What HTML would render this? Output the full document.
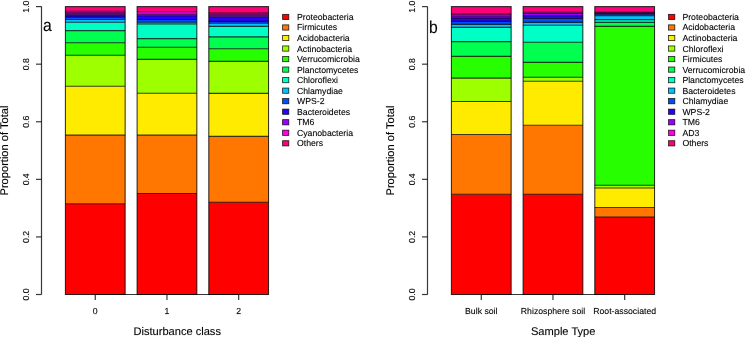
<!DOCTYPE html>
<html><head><meta charset="utf-8"><style>
html,body{margin:0;padding:0;background:#fff;}
svg{display:block;}
text{font-family:"Liberation Sans",Arial,sans-serif;fill:#000;stroke:#000;stroke-width:0.3px;stroke-opacity:0.35;text-rendering:geometricPrecision;}
</style></head><body>
<svg width="746" height="337" viewBox="0 0 746 337">
<rect width="746" height="337" fill="#fff"/>
<rect x="65.40" y="203.70" width="59.74" height="90.80" fill="#FF0000"/>
<rect x="65.40" y="135.10" width="59.74" height="68.60" fill="#FF7600"/>
<rect x="65.40" y="86.30" width="59.74" height="48.80" fill="#FFEB00"/>
<rect x="65.40" y="55.30" width="59.74" height="31.00" fill="#9DFF00"/>
<rect x="65.40" y="42.80" width="59.74" height="12.50" fill="#27FF00"/>
<rect x="65.40" y="30.60" width="59.74" height="12.20" fill="#00FF4E"/>
<rect x="65.40" y="22.30" width="59.74" height="8.30" fill="#00FFC4"/>
<rect x="65.40" y="19.50" width="59.74" height="2.80" fill="#00C4FF"/>
<rect x="65.40" y="17.10" width="59.74" height="2.40" fill="#004EFF"/>
<rect x="65.40" y="14.80" width="59.74" height="2.30" fill="#2700FF"/>
<rect x="65.40" y="12.90" width="59.74" height="1.90" fill="#9D00FF"/>
<rect x="65.40" y="11.30" width="59.74" height="1.60" fill="#FF00EB"/>
<rect x="65.40" y="6.60" width="59.74" height="4.70" fill="#FF0076"/>
<path d="M65.40 203.70H125.14M65.40 135.10H125.14M65.40 86.30H125.14M65.40 55.30H125.14M65.40 42.80H125.14M65.40 30.60H125.14M65.40 22.30H125.14M65.40 19.50H125.14M65.40 17.10H125.14M65.40 14.80H125.14M65.40 12.90H125.14M65.40 11.30H125.14" stroke="#000" stroke-opacity="0.75" stroke-width="1.1" fill="none"/>
<rect x="65.40" y="6.60" width="59.74" height="287.90" fill="none" stroke="#000" stroke-opacity="0.8" stroke-width="1.05"/>
<rect x="137.10" y="193.50" width="59.74" height="101.00" fill="#FF0000"/>
<rect x="137.10" y="135.10" width="59.74" height="58.40" fill="#FF7600"/>
<rect x="137.10" y="93.30" width="59.74" height="41.80" fill="#FFEB00"/>
<rect x="137.10" y="59.40" width="59.74" height="33.90" fill="#9DFF00"/>
<rect x="137.10" y="47.20" width="59.74" height="12.20" fill="#27FF00"/>
<rect x="137.10" y="38.60" width="59.74" height="8.60" fill="#00FF4E"/>
<rect x="137.10" y="24.00" width="59.74" height="14.60" fill="#00FFC4"/>
<rect x="137.10" y="22.30" width="59.74" height="1.70" fill="#00C4FF"/>
<rect x="137.10" y="19.50" width="59.74" height="2.80" fill="#004EFF"/>
<rect x="137.10" y="15.70" width="59.74" height="3.80" fill="#2700FF"/>
<rect x="137.10" y="14.30" width="59.74" height="1.40" fill="#9D00FF"/>
<rect x="137.10" y="11.70" width="59.74" height="2.60" fill="#FF00EB"/>
<rect x="137.10" y="6.60" width="59.74" height="5.10" fill="#FF0076"/>
<path d="M137.10 193.50H196.84M137.10 135.10H196.84M137.10 93.30H196.84M137.10 59.40H196.84M137.10 47.20H196.84M137.10 38.60H196.84M137.10 24.00H196.84M137.10 22.30H196.84M137.10 19.50H196.84M137.10 15.70H196.84M137.10 14.30H196.84M137.10 11.70H196.84" stroke="#000" stroke-opacity="0.75" stroke-width="1.1" fill="none"/>
<rect x="137.10" y="6.60" width="59.74" height="287.90" fill="none" stroke="#000" stroke-opacity="0.8" stroke-width="1.05"/>
<rect x="208.80" y="202.20" width="59.74" height="92.30" fill="#FF0000"/>
<rect x="208.80" y="136.40" width="59.74" height="65.80" fill="#FF7600"/>
<rect x="208.80" y="93.40" width="59.74" height="43.00" fill="#FFEB00"/>
<rect x="208.80" y="61.40" width="59.74" height="32.00" fill="#9DFF00"/>
<rect x="208.80" y="48.70" width="59.74" height="12.70" fill="#27FF00"/>
<rect x="208.80" y="36.90" width="59.74" height="11.80" fill="#00FF4E"/>
<rect x="208.80" y="26.40" width="59.74" height="10.50" fill="#00FFC4"/>
<rect x="208.80" y="23.20" width="59.74" height="3.20" fill="#00C4FF"/>
<rect x="208.80" y="21.40" width="59.74" height="1.80" fill="#004EFF"/>
<rect x="208.80" y="16.70" width="59.74" height="4.70" fill="#2700FF"/>
<rect x="208.80" y="14.90" width="59.74" height="1.80" fill="#9D00FF"/>
<rect x="208.80" y="13.10" width="59.74" height="1.80" fill="#FF00EB"/>
<rect x="208.80" y="6.60" width="59.74" height="6.50" fill="#FF0076"/>
<path d="M208.80 202.20H268.54M208.80 136.40H268.54M208.80 93.40H268.54M208.80 61.40H268.54M208.80 48.70H268.54M208.80 36.90H268.54M208.80 26.40H268.54M208.80 23.20H268.54M208.80 21.40H268.54M208.80 16.70H268.54M208.80 14.90H268.54M208.80 13.10H268.54" stroke="#000" stroke-opacity="0.75" stroke-width="1.1" fill="none"/>
<rect x="208.80" y="6.60" width="59.74" height="287.90" fill="none" stroke="#000" stroke-opacity="0.8" stroke-width="1.05"/>
<line x1="41.5" y1="6.6" x2="41.5" y2="294.5" stroke="#000" stroke-opacity="0.78" stroke-width="1.2"/>
<line x1="36.0" y1="294.50" x2="41.5" y2="294.50" stroke="#000" stroke-opacity="0.78" stroke-width="1.2"/>
<text transform="translate(28.90,294.50) rotate(-90)" text-anchor="middle" font-size="8.7">0.0</text>
<line x1="36.0" y1="236.92" x2="41.5" y2="236.92" stroke="#000" stroke-opacity="0.78" stroke-width="1.2"/>
<text transform="translate(28.90,236.92) rotate(-90)" text-anchor="middle" font-size="8.7">0.2</text>
<line x1="36.0" y1="179.34" x2="41.5" y2="179.34" stroke="#000" stroke-opacity="0.78" stroke-width="1.2"/>
<text transform="translate(28.90,179.34) rotate(-90)" text-anchor="middle" font-size="8.7">0.4</text>
<line x1="36.0" y1="121.76" x2="41.5" y2="121.76" stroke="#000" stroke-opacity="0.78" stroke-width="1.2"/>
<text transform="translate(28.90,121.76) rotate(-90)" text-anchor="middle" font-size="8.7">0.6</text>
<line x1="36.0" y1="64.18" x2="41.5" y2="64.18" stroke="#000" stroke-opacity="0.78" stroke-width="1.2"/>
<text transform="translate(28.90,64.18) rotate(-90)" text-anchor="middle" font-size="8.7">0.8</text>
<line x1="36.0" y1="6.60" x2="41.5" y2="6.60" stroke="#000" stroke-opacity="0.78" stroke-width="1.2"/>
<text transform="translate(28.90,6.60) rotate(-90)" text-anchor="middle" font-size="8.7">1.0</text>
<text transform="translate(7.80,150.55) rotate(-90)" text-anchor="middle" font-size="11.1">Proportion of Total</text>
<line x1="95.27" y1="294.5" x2="238.67" y2="294.5" stroke="#000" stroke-opacity="0.78" stroke-width="1.2"/>
<line x1="95.27" y1="294.5" x2="95.27" y2="300.0" stroke="#000" stroke-opacity="0.78" stroke-width="1.2"/>
<text x="95.27" y="314.0" text-anchor="middle" font-size="8.7">0</text>
<line x1="166.97" y1="294.5" x2="166.97" y2="300.0" stroke="#000" stroke-opacity="0.78" stroke-width="1.2"/>
<text x="166.97" y="314.0" text-anchor="middle" font-size="8.7">1</text>
<line x1="238.67" y1="294.5" x2="238.67" y2="300.0" stroke="#000" stroke-opacity="0.78" stroke-width="1.2"/>
<text x="238.67" y="314.0" text-anchor="middle" font-size="8.7">2</text>
<text x="177.20" y="334.8" text-anchor="middle" font-size="11.1">Disturbance class</text>
<rect x="282.60" y="14.35" width="6.2" height="5.2" fill="#FF0000" stroke="#000" stroke-opacity="0.85" stroke-width="0.8"/>
<text x="297.00" y="19.95" font-size="8.7">Proteobacteria</text>
<rect x="282.60" y="24.88" width="6.2" height="5.2" fill="#FF7600" stroke="#000" stroke-opacity="0.85" stroke-width="0.8"/>
<text x="297.00" y="30.48" font-size="8.7">Firmicutes</text>
<rect x="282.60" y="35.41" width="6.2" height="5.2" fill="#FFEB00" stroke="#000" stroke-opacity="0.85" stroke-width="0.8"/>
<text x="297.00" y="41.01" font-size="8.7">Acidobacteria</text>
<rect x="282.60" y="45.94" width="6.2" height="5.2" fill="#9DFF00" stroke="#000" stroke-opacity="0.85" stroke-width="0.8"/>
<text x="297.00" y="51.54" font-size="8.7">Actinobacteria</text>
<rect x="282.60" y="56.47" width="6.2" height="5.2" fill="#27FF00" stroke="#000" stroke-opacity="0.85" stroke-width="0.8"/>
<text x="297.00" y="62.07" font-size="8.7">Verrucomicrobia</text>
<rect x="282.60" y="67.00" width="6.2" height="5.2" fill="#00FF4E" stroke="#000" stroke-opacity="0.85" stroke-width="0.8"/>
<text x="297.00" y="72.60" font-size="8.7">Planctomycetes</text>
<rect x="282.60" y="77.53" width="6.2" height="5.2" fill="#00FFC4" stroke="#000" stroke-opacity="0.85" stroke-width="0.8"/>
<text x="297.00" y="83.13" font-size="8.7">Chloroflexi</text>
<rect x="282.60" y="88.06" width="6.2" height="5.2" fill="#00C4FF" stroke="#000" stroke-opacity="0.85" stroke-width="0.8"/>
<text x="297.00" y="93.66" font-size="8.7">Chlamydiae</text>
<rect x="282.60" y="98.59" width="6.2" height="5.2" fill="#004EFF" stroke="#000" stroke-opacity="0.85" stroke-width="0.8"/>
<text x="297.00" y="104.19" font-size="8.7">WPS-2</text>
<rect x="282.60" y="109.12" width="6.2" height="5.2" fill="#2700FF" stroke="#000" stroke-opacity="0.85" stroke-width="0.8"/>
<text x="297.00" y="114.72" font-size="8.7">Bacteroidetes</text>
<rect x="282.60" y="119.65" width="6.2" height="5.2" fill="#9D00FF" stroke="#000" stroke-opacity="0.85" stroke-width="0.8"/>
<text x="297.00" y="125.25" font-size="8.7">TM6</text>
<rect x="282.60" y="130.18" width="6.2" height="5.2" fill="#FF00EB" stroke="#000" stroke-opacity="0.85" stroke-width="0.8"/>
<text x="297.00" y="135.78" font-size="8.7">Cyanobacteria</text>
<rect x="282.60" y="140.71" width="6.2" height="5.2" fill="#FF0076" stroke="#000" stroke-opacity="0.85" stroke-width="0.8"/>
<text x="297.00" y="146.31" font-size="8.7">Others</text>
<text transform="translate(42.90,30.80) scale(0.9,1)" font-size="17.4">a</text>
<rect x="451.40" y="194.30" width="59.74" height="100.20" fill="#FF0000"/>
<rect x="451.40" y="134.50" width="59.74" height="59.80" fill="#FF7600"/>
<rect x="451.40" y="101.50" width="59.74" height="33.00" fill="#FFEB00"/>
<rect x="451.40" y="78.10" width="59.74" height="23.40" fill="#9DFF00"/>
<rect x="451.40" y="56.40" width="59.74" height="21.70" fill="#27FF00"/>
<rect x="451.40" y="41.60" width="59.74" height="14.80" fill="#00FF4E"/>
<rect x="451.40" y="27.40" width="59.74" height="14.20" fill="#00FFC4"/>
<rect x="451.40" y="24.40" width="59.74" height="3.00" fill="#00C4FF"/>
<rect x="451.40" y="21.40" width="59.74" height="3.00" fill="#004EFF"/>
<rect x="451.40" y="18.10" width="59.74" height="3.30" fill="#2700FF"/>
<rect x="451.40" y="16.00" width="59.74" height="2.10" fill="#9D00FF"/>
<rect x="451.40" y="14.10" width="59.74" height="1.90" fill="#FF00EB"/>
<rect x="451.40" y="6.60" width="59.74" height="7.50" fill="#FF0076"/>
<path d="M451.40 194.30H511.14M451.40 134.50H511.14M451.40 101.50H511.14M451.40 78.10H511.14M451.40 56.40H511.14M451.40 41.60H511.14M451.40 27.40H511.14M451.40 24.40H511.14M451.40 21.40H511.14M451.40 18.10H511.14M451.40 16.00H511.14M451.40 14.10H511.14" stroke="#000" stroke-opacity="0.75" stroke-width="1.1" fill="none"/>
<rect x="451.40" y="6.60" width="59.74" height="287.90" fill="none" stroke="#000" stroke-opacity="0.8" stroke-width="1.05"/>
<rect x="523.10" y="194.20" width="59.74" height="100.30" fill="#FF0000"/>
<rect x="523.10" y="125.30" width="59.74" height="68.90" fill="#FF7600"/>
<rect x="523.10" y="81.30" width="59.74" height="44.00" fill="#FFEB00"/>
<rect x="523.10" y="77.20" width="59.74" height="4.10" fill="#9DFF00"/>
<rect x="523.10" y="62.40" width="59.74" height="14.80" fill="#27FF00"/>
<rect x="523.10" y="42.20" width="59.74" height="20.20" fill="#00FF4E"/>
<rect x="523.10" y="25.20" width="59.74" height="17.00" fill="#00FFC4"/>
<rect x="523.10" y="22.40" width="59.74" height="2.80" fill="#00C4FF"/>
<rect x="523.10" y="18.50" width="59.74" height="3.90" fill="#004EFF"/>
<rect x="523.10" y="15.60" width="59.74" height="2.90" fill="#2700FF"/>
<rect x="523.10" y="13.50" width="59.74" height="2.10" fill="#9D00FF"/>
<rect x="523.10" y="12.20" width="59.74" height="1.30" fill="#FF00EB"/>
<rect x="523.10" y="6.60" width="59.74" height="5.60" fill="#FF0076"/>
<path d="M523.10 194.20H582.84M523.10 125.30H582.84M523.10 81.30H582.84M523.10 77.20H582.84M523.10 62.40H582.84M523.10 42.20H582.84M523.10 25.20H582.84M523.10 22.40H582.84M523.10 18.50H582.84M523.10 15.60H582.84M523.10 13.50H582.84M523.10 12.20H582.84" stroke="#000" stroke-opacity="0.75" stroke-width="1.1" fill="none"/>
<rect x="523.10" y="6.60" width="59.74" height="287.90" fill="none" stroke="#000" stroke-opacity="0.8" stroke-width="1.05"/>
<rect x="594.80" y="217.00" width="59.74" height="77.50" fill="#FF0000"/>
<rect x="594.80" y="207.50" width="59.74" height="9.50" fill="#FF7600"/>
<rect x="594.80" y="188.00" width="59.74" height="19.50" fill="#FFEB00"/>
<rect x="594.80" y="185.20" width="59.74" height="2.80" fill="#9DFF00"/>
<rect x="594.80" y="26.40" width="59.74" height="158.80" fill="#27FF00"/>
<rect x="594.80" y="22.40" width="59.74" height="4.00" fill="#00FF4E"/>
<rect x="594.80" y="19.60" width="59.74" height="2.80" fill="#00FFC4"/>
<rect x="594.80" y="15.70" width="59.74" height="3.90" fill="#00C4FF"/>
<rect x="594.80" y="14.30" width="59.74" height="1.40" fill="#004EFF"/>
<rect x="594.80" y="13.40" width="59.74" height="0.90" fill="#2700FF"/>
<rect x="594.80" y="12.90" width="59.74" height="0.50" fill="#9D00FF"/>
<rect x="594.80" y="12.20" width="59.74" height="0.70" fill="#FF00EB"/>
<rect x="594.80" y="6.60" width="59.74" height="5.60" fill="#FF0076"/>
<path d="M594.80 217.00H654.54M594.80 207.50H654.54M594.80 188.00H654.54M594.80 185.20H654.54M594.80 26.40H654.54M594.80 22.40H654.54M594.80 19.60H654.54M594.80 15.70H654.54M594.80 14.30H654.54M594.80 13.40H654.54M594.80 12.90H654.54M594.80 12.20H654.54" stroke="#000" stroke-opacity="0.75" stroke-width="1.1" fill="none"/>
<rect x="594.80" y="6.60" width="59.74" height="287.90" fill="none" stroke="#000" stroke-opacity="0.8" stroke-width="1.05"/>
<line x1="427.5" y1="6.6" x2="427.5" y2="294.5" stroke="#000" stroke-opacity="0.78" stroke-width="1.2"/>
<line x1="422.0" y1="294.50" x2="427.5" y2="294.50" stroke="#000" stroke-opacity="0.78" stroke-width="1.2"/>
<text transform="translate(414.90,294.50) rotate(-90)" text-anchor="middle" font-size="8.7">0.0</text>
<line x1="422.0" y1="236.92" x2="427.5" y2="236.92" stroke="#000" stroke-opacity="0.78" stroke-width="1.2"/>
<text transform="translate(414.90,236.92) rotate(-90)" text-anchor="middle" font-size="8.7">0.2</text>
<line x1="422.0" y1="179.34" x2="427.5" y2="179.34" stroke="#000" stroke-opacity="0.78" stroke-width="1.2"/>
<text transform="translate(414.90,179.34) rotate(-90)" text-anchor="middle" font-size="8.7">0.4</text>
<line x1="422.0" y1="121.76" x2="427.5" y2="121.76" stroke="#000" stroke-opacity="0.78" stroke-width="1.2"/>
<text transform="translate(414.90,121.76) rotate(-90)" text-anchor="middle" font-size="8.7">0.6</text>
<line x1="422.0" y1="64.18" x2="427.5" y2="64.18" stroke="#000" stroke-opacity="0.78" stroke-width="1.2"/>
<text transform="translate(414.90,64.18) rotate(-90)" text-anchor="middle" font-size="8.7">0.8</text>
<line x1="422.0" y1="6.60" x2="427.5" y2="6.60" stroke="#000" stroke-opacity="0.78" stroke-width="1.2"/>
<text transform="translate(414.90,6.60) rotate(-90)" text-anchor="middle" font-size="8.7">1.0</text>
<text transform="translate(393.80,150.55) rotate(-90)" text-anchor="middle" font-size="11.1">Proportion of Total</text>
<line x1="481.27" y1="294.5" x2="624.67" y2="294.5" stroke="#000" stroke-opacity="0.78" stroke-width="1.2"/>
<line x1="481.27" y1="294.5" x2="481.27" y2="300.0" stroke="#000" stroke-opacity="0.78" stroke-width="1.2"/>
<text x="481.27" y="314.0" text-anchor="middle" font-size="8.7">Bulk soil</text>
<line x1="552.97" y1="294.5" x2="552.97" y2="300.0" stroke="#000" stroke-opacity="0.78" stroke-width="1.2"/>
<text x="552.97" y="314.0" text-anchor="middle" font-size="8.7">Rhizosphere soil</text>
<line x1="624.67" y1="294.5" x2="624.67" y2="300.0" stroke="#000" stroke-opacity="0.78" stroke-width="1.2"/>
<text x="624.67" y="314.0" text-anchor="middle" font-size="8.7">Root-associated</text>
<text x="563.20" y="334.8" text-anchor="middle" font-size="11.1">Sample Type</text>
<rect x="668.60" y="14.35" width="6.2" height="5.2" fill="#FF0000" stroke="#000" stroke-opacity="0.85" stroke-width="0.8"/>
<text x="682.40" y="19.95" font-size="8.7">Proteobacteria</text>
<rect x="668.60" y="24.88" width="6.2" height="5.2" fill="#FF7600" stroke="#000" stroke-opacity="0.85" stroke-width="0.8"/>
<text x="682.40" y="30.48" font-size="8.7">Acidobacteria</text>
<rect x="668.60" y="35.41" width="6.2" height="5.2" fill="#FFEB00" stroke="#000" stroke-opacity="0.85" stroke-width="0.8"/>
<text x="682.40" y="41.01" font-size="8.7">Actinobacteria</text>
<rect x="668.60" y="45.94" width="6.2" height="5.2" fill="#9DFF00" stroke="#000" stroke-opacity="0.85" stroke-width="0.8"/>
<text x="682.40" y="51.54" font-size="8.7">Chloroflexi</text>
<rect x="668.60" y="56.47" width="6.2" height="5.2" fill="#27FF00" stroke="#000" stroke-opacity="0.85" stroke-width="0.8"/>
<text x="682.40" y="62.07" font-size="8.7">Firmicutes</text>
<rect x="668.60" y="67.00" width="6.2" height="5.2" fill="#00FF4E" stroke="#000" stroke-opacity="0.85" stroke-width="0.8"/>
<text x="682.40" y="72.60" font-size="8.7">Verrucomicrobia</text>
<rect x="668.60" y="77.53" width="6.2" height="5.2" fill="#00FFC4" stroke="#000" stroke-opacity="0.85" stroke-width="0.8"/>
<text x="682.40" y="83.13" font-size="8.7">Planctomycetes</text>
<rect x="668.60" y="88.06" width="6.2" height="5.2" fill="#00C4FF" stroke="#000" stroke-opacity="0.85" stroke-width="0.8"/>
<text x="682.40" y="93.66" font-size="8.7">Bacteroidetes</text>
<rect x="668.60" y="98.59" width="6.2" height="5.2" fill="#004EFF" stroke="#000" stroke-opacity="0.85" stroke-width="0.8"/>
<text x="682.40" y="104.19" font-size="8.7">Chlamydiae</text>
<rect x="668.60" y="109.12" width="6.2" height="5.2" fill="#2700FF" stroke="#000" stroke-opacity="0.85" stroke-width="0.8"/>
<text x="682.40" y="114.72" font-size="8.7">WPS-2</text>
<rect x="668.60" y="119.65" width="6.2" height="5.2" fill="#9D00FF" stroke="#000" stroke-opacity="0.85" stroke-width="0.8"/>
<text x="682.40" y="125.25" font-size="8.7">TM6</text>
<rect x="668.60" y="130.18" width="6.2" height="5.2" fill="#FF00EB" stroke="#000" stroke-opacity="0.85" stroke-width="0.8"/>
<text x="682.40" y="135.78" font-size="8.7">AD3</text>
<rect x="668.60" y="140.71" width="6.2" height="5.2" fill="#FF0076" stroke="#000" stroke-opacity="0.85" stroke-width="0.8"/>
<text x="682.40" y="146.31" font-size="8.7">Others</text>
<text transform="translate(428.90,33.00) scale(0.9,1)" font-size="17.4">b</text>
</svg>
</body></html>
